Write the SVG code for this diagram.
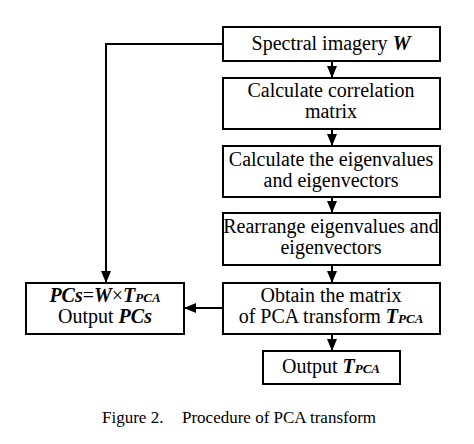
<svg xmlns="http://www.w3.org/2000/svg" width="474" height="444" viewBox="0 0 474 444">
<style>
.box{fill:#fff;stroke:#000;stroke-width:2}
.t{font-family:'Liberation Serif',serif;font-size:20px;fill:#000;text-anchor:middle}
.bi{font-weight:bold;font-style:italic}
.sub{font-weight:bold;font-style:italic;font-size:13px}
.ln{fill:none;stroke:#000;stroke-width:2}
.cap{font-family:'Liberation Serif',serif;font-size:17px;fill:#000}
</style>
<defs>
<marker id="ah" markerWidth="12" markerHeight="10" refX="12" refY="5" orient="auto" markerUnits="userSpaceOnUse">
<path d="M0,0 L12,5 L0,10 Z" fill="#000"/>
</marker>
</defs>
<rect width="474" height="444" fill="#fff"/>
<g id="connectors">
<line class="ln" x1="332" y1="61" x2="332" y2="78" marker-end="url(#ah)"/>
<line class="ln" x1="332" y1="129" x2="332" y2="146" marker-end="url(#ah)"/>
<line class="ln" x1="332" y1="197" x2="332" y2="213" marker-end="url(#ah)"/>
<line class="ln" x1="332" y1="265" x2="332" y2="283" marker-end="url(#ah)"/>
<line class="ln" x1="332" y1="334" x2="332" y2="351" marker-end="url(#ah)"/>
<line class="ln" x1="223" y1="308" x2="184" y2="308" marker-end="url(#ah)"/>
<polyline class="ln" points="223,44 106,44 106,283" marker-end="url(#ah)"/>
</g>
<g id="n1">
<rect class="box" x="223" y="27" width="217" height="34"/>
<text class="t" x="331" y="50">Spectral imagery <tspan class="bi">W</tspan></text>
</g>
<g id="n2">
<rect class="box" x="223" y="78" width="217" height="51"/>
<text class="t" x="331" y="97">Calculate correlation</text>
<text class="t" x="331" y="118">matrix</text>
</g>
<g id="n3">
<rect class="box" x="223" y="146" width="217" height="51"/>
<text class="t" x="331" y="166">Calculate the eigenvalues</text>
<text class="t" x="331" y="187">and eigenvectors</text>
</g>
<g id="n4">
<rect class="box" x="223" y="213" width="217" height="52"/>
<text class="t" x="331" y="233">Rearrange eigenvalues and</text>
<text class="t" x="331" y="254">eigenvectors</text>
</g>
<g id="n5">
<rect class="box" x="223" y="283" width="217" height="51"/>
<text class="t" x="331" y="302">Obtain the matrix</text>
<text class="t" x="331" y="323">of PCA transform <tspan class="bi">T</tspan><tspan class="sub">PCA</tspan></text>
</g>
<g id="n6">
<rect class="box" x="263" y="351" width="137" height="33"/>
<text class="t" x="331" y="373">Output <tspan class="bi">T</tspan><tspan class="sub">PCA</tspan></text>
</g>
<g id="n7">
<rect class="box" x="26" y="283" width="158" height="51"/>
<text class="t" x="105" y="302"><tspan class="bi">PCs</tspan>=<tspan class="bi">W</tspan>×<tspan class="bi">T</tspan><tspan class="sub">PCA</tspan></text>
<text class="t" x="105" y="323">Output <tspan class="bi">PCs</tspan></text>
</g>
<text class="cap" x="102" y="423">Figure 2.<tspan x="182">Procedure of PCA transform</tspan></text>
</svg>
